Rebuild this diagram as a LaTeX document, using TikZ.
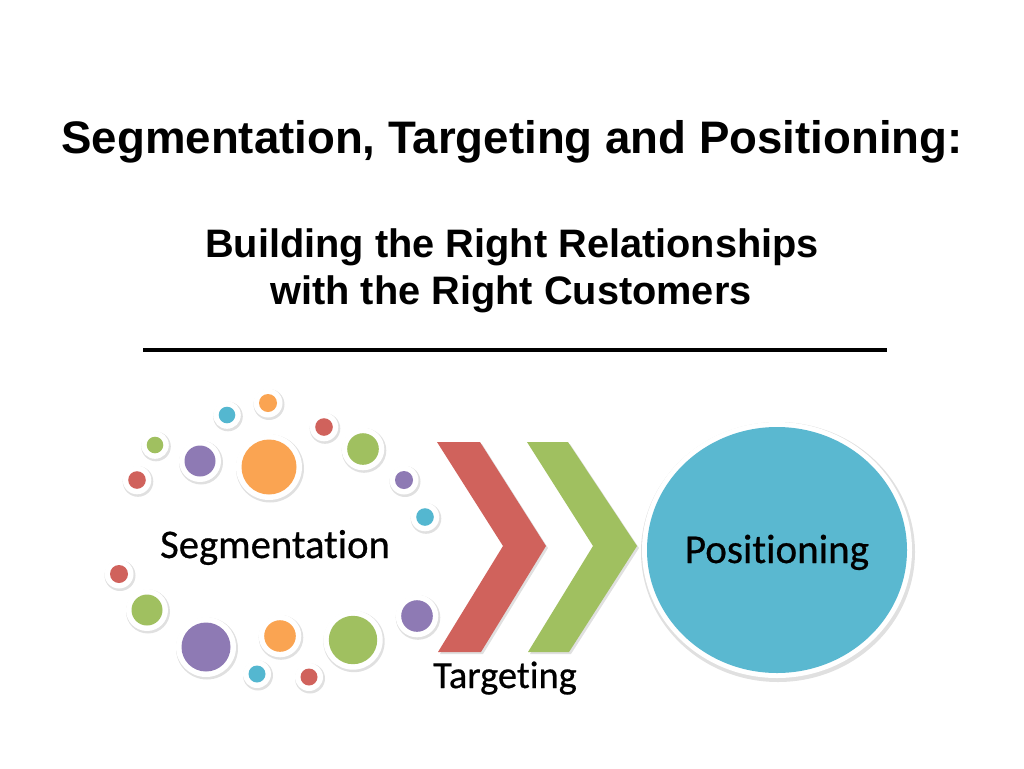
\documentclass[tikz,border=0pt]{standalone}
\usepackage{fontspec}
\setmainfont{Liberation Sans}
\newfontfamily\calib[Ligatures=NoCommon,FakeBold=0.6]{Carlito}
\definecolor{cred}{RGB}{208,98,92}
\definecolor{cgreen}{RGB}{160,192,96}
\definecolor{corange}{RGB}{250,164,82}
\definecolor{cpurple}{RGB}{142,122,180}
\definecolor{ccyan}{RGB}{84,183,208}
\definecolor{cpos}{RGB}{90,184,208}
\tikzset{
  titletext/.style={anchor=base, font=\bfseries\fontsize{34.2}{40}\selectfont},
  subtext/.style={anchor=base, font=\bfseries\fontsize{29.8}{35}\selectfont},
  label/.style={anchor=base, font=\calib\fontsize{30.5}{35}\selectfont},
  shade/.style={fill=black, fill opacity=0.12},
}
\begin{document}
\begin{tikzpicture}[x=0.75pt,y=-0.75pt]
\useasboundingbox[fill=white] (0,0) rectangle (1024,768);

% titles
\node[titletext] (title) at (512,153) {Segmentation, Targeting and Positioning:};
\node[subtext] (sub1) at (512,257) {Building the Right Relationships};
\node[subtext] (sub2) at (511,304) {with the Right Customers};
\coordinate (ruleL) at (143,350);
\coordinate (ruleR) at (887,350);
\draw[line width=2.3pt] (ruleL) -- (ruleR);

% dots
\foreach \x/\y/\r/\c [count=\i] in {
  268/403/9/corange, 227/415/8.3/ccyan, 324/427/8.8/cred,
  155/445/8.3/cgreen, 137/480/8.8/cred, 200/461/15.5/cpurple,
  269/467/27.5/corange, 363/449/15.8/cgreen, 404/480/9/cpurple,
  425/517/8.8/ccyan, 119/574/9/cred, 147/610/15.5/cgreen,
  206/647/24.5/cpurple, 280/636/15.8/corange, 353/640/24.2/cgreen,
  417/616/15.8/cpurple, 257/674/8.5/ccyan, 309/677/8.5/cred}{
  \fill[shade] (\x+1,\y+1.5) circle ({\r+6.5});
  \fill[white] (\x,\y) circle ({\r+5.5});
  \fill[\c] (\x,\y) circle (\r) coordinate (dot\i);
}

% chevrons
\fill[shade] (439,444) -- (482,444) -- (548,548) -- (483,654) -- (440,654) -- (505,548) -- cycle;
\fill[cred] (437,442) coordinate (chR) -- (480,442) -- (546,546) -- (481,652) -- (438,652) -- (503,546) -- cycle;
\fill[shade] (529,444) -- (570,444) -- (639,548) -- (571,654) -- (530,654) -- (595,548) -- cycle;
\fill[cgreen] (527,442) coordinate (chG) -- (568,442) -- (637,546) -- (569,652) -- (528,652) -- (593,546) -- cycle;

% positioning circle
\fill[shade] (778,552) ellipse (137 and 130);
\fill[white] (777,550) ellipse (135 and 128);
\fill[cpos] (777,550) ellipse (130 and 123);

% labels
\node[label] (seg) at (275,558) {Segmentation};
\node[label, font=\calib\fontsize{28.8}{33}\selectfont] (tgt) at (505,688) {Targeting};
\node[label, font=\calib\fontsize{30.8}{35}\selectfont] (pos) at (777,563) {Positioning};
\end{tikzpicture}
\end{document}
